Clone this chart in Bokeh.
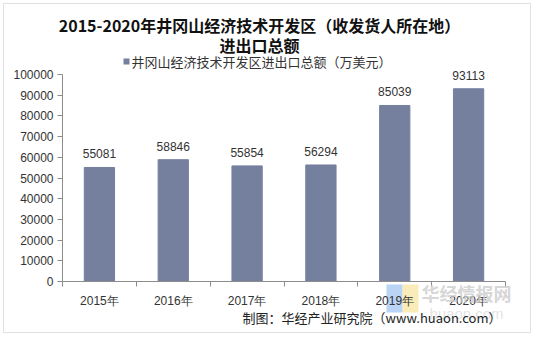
from bokeh.plotting import figure
from bokeh.models import (ColumnDataSource, Range1d, FixedTicker, LabelSet, Label,
                          BoxAnnotation, LinearAxis, NumeralTickFormatter)
from bokeh.core.properties import value
from bokeh.embed import file_html
from bokeh.resources import INLINE

years = ["2015年", "2016年", "2017年", "2018年", "2019年", "2020年"]
values = [55081, 58846, 55854, 56294, 85039, 93113]
y_ticks = [0, 10000, 20000, 30000, 40000, 50000, 60000, 70000, 80000, 90000, 100000]
title_lines = ["2015-2020年井冈山经济技术开发区（收发货人所在地）", "进出口总额"]
legend_text = "井冈山经济技术开发区进出口总额（万美元）"
source_text = "制图：华经产业研究院（www.huaon.com）"

W, H = 536, 338
# plot area in canvas pixels
FL, FR, FT, FB = 62, 505, 74, 281
YMAX = 100000
N = len(years)
BAR = "#75809F"
NUM_FONT = "Arial"
CJK_FONT = "Noto Sans CJK SC"

xpx = (FR - FL) / N
ypx = (FB - FT) / YMAX
x_range = Range1d(-FL / xpx, N + (W - FR) / xpx)
y_range = Range1d(-(H - FB) / ypx, YMAX + FT / ypx)

xc = [i + 0.5 for i in range(N)]
src = ColumnDataSource(dict(x=xc, top=values, lab=[str(v) for v in values]))

p = figure(width=W, height=H, output_backend="svg", toolbar_location=None,
           x_range=x_range, y_range=y_range,
           x_axis_location=None, y_axis_location=None,
           min_border_left=0, min_border_right=0, min_border_top=0,
           min_border_bottom=0)
p.outline_line_color = None
p.xgrid.visible = False
p.ygrid.visible = False
p.background_fill_color = "white"
p.border_fill_color = "white"

def sbox(l, r, t, b, **kw):
    return BoxAnnotation(left=l, right=r, top=H - t, bottom=H - b,
                         left_units="screen", right_units="screen",
                         top_units="screen", bottom_units="screen", **kw)

def slabel(x, y, text, **kw):
    return Label(x=x, y=H - y, x_units="screen", y_units="screen", text=text,
                 text_baseline="middle", **kw)

# faint watermark (behind everything)
p.add_layout(sbox(386, 402, 284, 312, fill_color="#a9c9f2", fill_alpha=0.8,
                  line_color=None, level="underlay"))
p.add_layout(sbox(402, 418, 284, 312, fill_color="#f7e7a6", fill_alpha=0.8,
                  line_color=None, level="underlay"))

r = p.vbar(x="x", top="top", width=0.41, source=src, color=BAR)

p.add_layout(LabelSet(x="x", y="top", text="lab", source=src, y_offset=9,
                      text_align="center", text_baseline="bottom",
                      text_font_size="12px", text_color="#333333",
                      text_font=value(NUM_FONT)))

# y axis
ya = LinearAxis(fixed_location=0, bounds=(0, YMAX),
                ticker=FixedTicker(ticks=y_ticks, minor_ticks=[]),
                formatter=NumeralTickFormatter(format="0"))
ya.axis_line_color = "#8c8c8c"
ya.major_tick_line_color = "#8c8c8c"
ya.major_tick_out = 5
ya.major_tick_in = 0
ya.major_label_text_font_size = "12px"
ya.major_label_text_color = "#333333"
ya.major_label_text_font = NUM_FONT
ya.major_label_standoff = 4
p.add_layout(ya, "left")

# x axis
xa = LinearAxis(fixed_location=0, bounds=(0, N),
                ticker=FixedTicker(ticks=xc, minor_ticks=list(range(N + 1))))
xa.major_label_overrides = {x: y for x, y in zip(xc, years)}
xa.axis_line_color = "#8c8c8c"
xa.major_tick_line_color = None
xa.minor_tick_line_color = "#8c8c8c"
xa.minor_tick_out = 5
xa.minor_tick_in = 0
xa.major_label_text_font_size = "12px"
xa.major_label_text_color = "#333333"
xa.major_label_text_font = NUM_FONT
xa.major_label_standoff = 6
p.add_layout(xa, "below")

# outer border
p.add_layout(sbox(3, 530, 3, 332, fill_alpha=0, line_color="#9a9a9a", line_width=1))

# title
for t, y in zip(title_lines, [24, 44]):
    p.add_layout(slabel(259, y, t, text_align="center", text_font=CJK_FONT,
                        text_font_style="bold", text_font_size="16px",
                        text_color="#111111"))

# legend
p.add_layout(sbox(123, 129, 58, 64, fill_color=BAR, fill_alpha=1, line_color=None))
p.add_layout(slabel(131, 61, legend_text, text_align="left", text_font=CJK_FONT,
                    text_font_size="13px", text_color="#333333"))

# watermark text
p.add_layout(slabel(466, 292, "华经情报网", text_align="center", text_font=CJK_FONT,
                    text_font_style="bold", text_font_size="18px",
                    text_color="#cccccc", text_alpha=0.8))
p.add_layout(slabel(466, 313, "huaon.com", text_align="center",
                    text_font=NUM_FONT, text_font_size="15px",
                    text_color="#dddddd", text_alpha=0.8))

# source
p.add_layout(slabel(501, 317, source_text, text_align="right", text_font=CJK_FONT,
                    text_font_size="13px", text_color="#222222"))

open("out.html", "w").write(file_html(p, INLINE))
